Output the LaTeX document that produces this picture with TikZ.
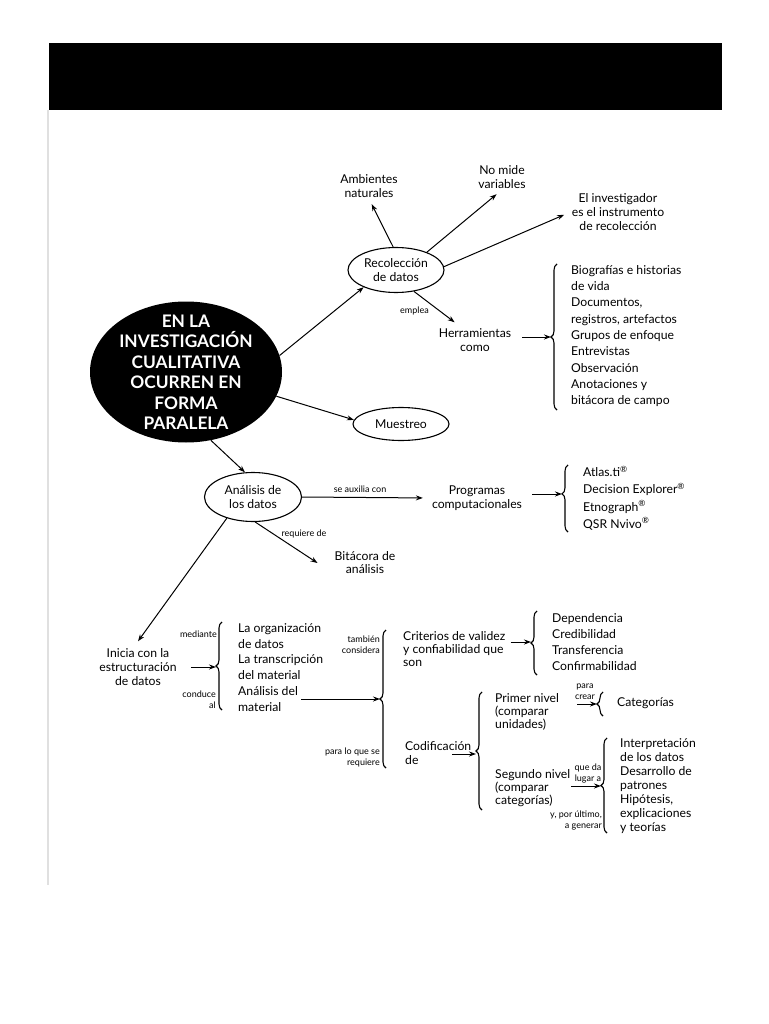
\documentclass[tikz,border=0pt]{standalone}
\usepackage{fontspec}
\setmainfont{Lato}
\usetikzlibrary{arrows.meta,calc,positioning,shapes.geometric,decorations.pathreplacing}

\begin{document}
\begin{tikzpicture}[x=1pt,y=-1pt,>={Stealth[length=7pt,width=5pt]},
  oval/.style={ellipse,draw,line width=1.1pt,inner sep=1pt,align=center,font=\fontsize{12.2}{14.5}\selectfont},
  txt/.style={align=center,inner sep=1pt,font=\fontsize{12.2}{#1}\selectfont},
  txt/.default=14,
  lst/.style={align=left,anchor=west,inner sep=0pt,font=\fontsize{12.2}{#1}\selectfont},
  lbl/.style={inner sep=0pt,font=\fontsize{9}{11}\selectfont},
  lnk/.style={->,line width=1pt},
  brc/.style={decorate,decoration={brace,amplitude=6pt,aspect=#1},line width=1.1pt},
  brc/.default=0.5]
\useasboundingbox (0,0) rectangle (768,1024);
% black band and scan edge
\fill (49,43) rectangle (722,110);
\draw[black!12,line width=1.2pt] (48,110) -- (48,885);

% centre and the three processes
\node[ellipse,fill=black,text=white,minimum width=192pt,minimum height=141pt,inner sep=-20pt,align=center,font=\bfseries\fontsize{17.3}{20.5}\selectfont] (main) at (186,372) {EN LA\\INVESTIGACIÓN\\CUALITATIVA\\OCURREN EN\\FORMA\\PARALELA};
\node[oval,minimum width=96pt,minimum height=45pt] (rec) at (396,270) {Recolección\\de datos};
\node[oval,minimum width=96pt,minimum height=33pt] (mue) at (401,424) {Muestreo};
\node[oval,minimum width=97pt,minimum height=49pt] (ana) at (253,497) {Análisis de\\los datos};
\draw[lnk] (main.10) -- (rec.208);
\draw[lnk] (main.-15) -- (mue.175);
\draw[lnk] (main.-70) -- (ana.108);

% recoleccion
\node[txt] (amb) at (369,186) {Ambientes\\naturales};
\node[txt] (nomide) at (502,177) {No mide\\variables};
\node[txt=13.8] (inv) at (618,212) {El investigador\\es el instrumento\\de recolección};
\node[txt] (herr) at (475,340) {Herramientas\\como};
\draw[lnk,shorten >=6pt] (rec.97) -- (amb.south);
\draw[lnk,shorten >=7pt] (rec.30) -- (nomide.south);
\draw[lnk,shorten >=7pt] (rec.4) -- (inv.west);
\draw[lnk] (rec.-50) -- ([shift={(17,-5)}]herr.north west) node[lbl,pos=0.45,below left=1pt and 3pt]{emplea};
\coordinate (hb) at (551,337);
\draw[brc] (557,410) -- (557,264);
\draw[lnk] ($(herr.east |- hb)+(10,0)$) -- (hb);
\node[lst=16.3] (herrl) at (571,336) {Biografías e historias\\de vida\\Documentos,\\registros, artefactos\\Grupos de enfoque\\Entrevistas\\Observación\\Anotaciones y\\bitácora de campo};

% analisis
\node[txt=13.5] (prog) at (477,498) {Programas\\computacionales};
\node[txt=13] (bit) at (365,563) {Bitácora de\\análisis};
\node[txt] (ini) at (138,667) {Inicia con la\\estructuración\\de datos};
\draw[lnk,shorten >=8pt] (ana.east) -- (prog.west) node[lbl,pos=0.45,above=4pt]{se auxilia con};
\draw[lnk] (ana.-85) -- ([xshift=-16pt]bit.west) node[lbl,pos=0.4,above right=0pt and 1pt]{requiere de};
\draw[lnk] (ana.219) -- ([yshift=6pt]ini.north);
\coordinate (pb) at (562,494);
\draw[brc=0.57] (568,532) -- (568,465);
\draw[lnk] ($(prog.east |- pb)+(9,0)$) -- (pb);
\node[lst=17.3] (progl) at (583,498) {Atlas.ti\textsuperscript{®}\\Decision Explorer\textsuperscript{®}\\Etnograph\textsuperscript{®}\\QSR Nvivo\textsuperscript{®}};

% estructuracion
\coordinate (ob) at (216,667);
\draw[brc] (222,710) -- (222,622);
\draw[lnk] ($(ini.east |- ob)+(13,0)$) -- (ob);
\node[lbl,anchor=east] (med) at (217,634) {mediante};
\node[lbl,anchor=east,align=right] (cond) at (216,700) {conduce\\al};
\node[lst=15.6] (org1) at (238,636) {La organización\\de datos};
\node[lst=15.6] (org2) at (238,667) {La transcripción\\del material};
\node[lst=15.6] (org3) at (238,699) {Análisis del\\material};
\coordinate (gb) at (380,699);
\draw[brc] (386,768) -- (386,630);
\draw[lnk] ($(org3.east)+(3,0)$) -- (gb);
\node[lbl,anchor=east,align=right] (tamb) at (380,645) {también\\considera};
\node[lbl,anchor=east,align=right] (req) at (380,757) {para lo que se\\requiere};

% criterios
\node[lst=13] (crit) at (403,649) {Criterios de validez\\y confiabilidad que\\son};
\coordinate (db) at (531,642);
\draw[brc] (537,675) -- (537,611);
\draw[lnk] ($(crit.east |- db)+(5,0)$) -- (db);
\node[lst=16] (depl) at (552,642) {Dependencia\\Credibilidad\\Transferencia\\Confirmabilidad};

% codificacion
\node[lst=13.5] (cod) at (405,753) {Codificación\\de};
\coordinate (cb) at (476,754);
\draw[brc] (482,810) -- (482,692);
\draw[lnk] ($(cod.east |- cb)+(-19,0)$) -- (cb);
\node[lst=12.8] (prim) at (495,712) {Primer nivel\\(comparar\\unidades)};
\node[lst=12.8] (seg) at (495,788) {Segundo nivel\\(comparar\\categorías)};
\node[lbl,align=center] (crear) at (585,692) {para\\crear};
\coordinate (kb) at (597,704);
\draw[brc] (603,716) -- (603,692);
\draw[lnk] ($(prim.east |- kb)+(18,0)$) -- (kb);
\node[lst=12] (catl) at (617,703) {Categorías};
\node[lbl,align=center] (lugar) at (588,773) {que da\\lugar a};
\coordinate (ib) at (601,786);
\draw[brc] (607,833) -- (607,738);
\draw[lnk] ($(seg.east |- ib)+(1,0)$) -- (ib);
\node[lbl,anchor=east,align=right] (gen) at (602,820) {y, por último,\\a generar};
\node[lst=14] (intl) at (620,786) {Interpretación\\de los datos\\Desarrollo de\\patrones\\Hipótesis,\\explicaciones\\y teorías};
\end{tikzpicture}
\end{document}
